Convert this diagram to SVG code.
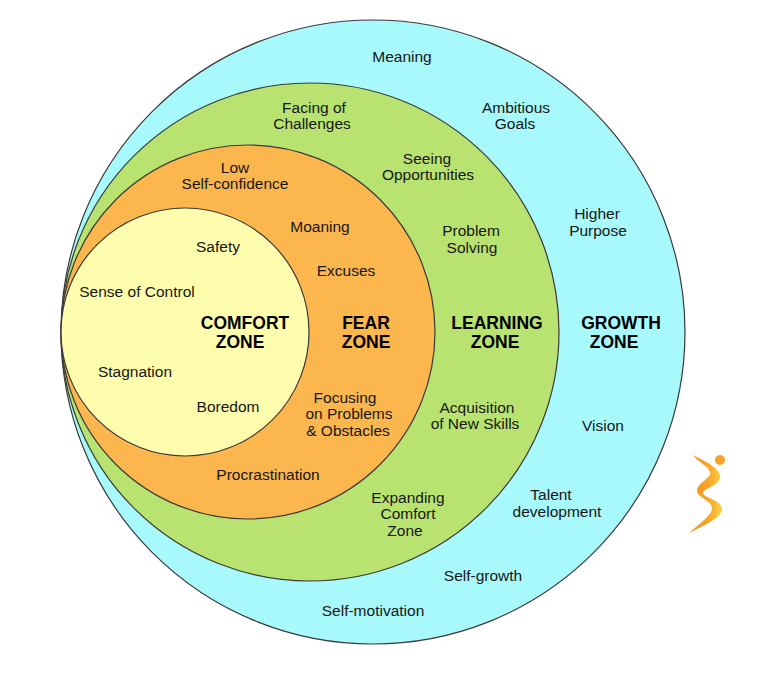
<svg xmlns="http://www.w3.org/2000/svg" width="768" height="677" viewBox="0 0 768 677">
<defs>
<style>
.zone{stroke:#3a3a3a;stroke-width:1.2}
text{font-family:"Liberation Sans",Arial,sans-serif;font-size:15.5px;fill:#161616;text-anchor:middle}
.b{font-weight:bold;font-size:17.5px;fill:#000}
</style>
<linearGradient id="lg" x1="0" y1="0" x2="1" y2="0">
<stop offset="0" stop-color="#f58a1f"/>
<stop offset="0.6" stop-color="#f9a62a"/>
<stop offset="1" stop-color="#fcd444"/>
</linearGradient>
</defs>
<rect width="768" height="677" fill="#fff"/>
<g id="growth-zone">
<circle class="zone" cx="373" cy="332" r="312" fill="#a8f9fc"/>
</g>
<g id="learning-zone">
<circle class="zone" cx="310" cy="332" r="249" fill="#b9e370"/>
</g>
<g id="fear-zone">
<circle class="zone" cx="248" cy="332" r="187" fill="#fcb64e"/>
</g>
<g id="comfort-zone">
<circle class="zone" cx="185" cy="332" r="124" fill="#fdfdad"/>
</g>
<g id="growth-labels">
<text x="402" y="62">Meaning</text>
<text x="516" y="113">Ambitious</text>
<text x="515" y="129">Goals</text>
<text x="597" y="219">Higher</text>
<text x="598" y="236">Purpose</text>
<text class="b" x="621" y="329">GROWTH</text>
<text class="b" x="614" y="348">ZONE</text>
<text x="603" y="431">Vision</text>
<text x="551" y="500">Talent</text>
<text x="557" y="517">development</text>
<text x="483" y="581">Self-growth</text>
<text x="373" y="616">Self-motivation</text>
</g>
<g id="learning-labels">
<text x="314" y="113">Facing of</text>
<text x="312" y="129">Challenges</text>
<text x="427" y="164">Seeing</text>
<text x="428" y="180">Opportunities</text>
<text x="471" y="236">Problem</text>
<text x="472" y="253">Solving</text>
<text class="b" x="497" y="329">LEARNING</text>
<text class="b" x="495" y="348">ZONE</text>
<text x="477" y="413">Acquisition</text>
<text x="475" y="429">of New Skills</text>
<text x="408" y="503">Expanding</text>
<text x="408" y="519">Comfort</text>
<text x="405" y="536">Zone</text>
</g>
<g id="fear-labels">
<text x="235" y="173">Low</text>
<text x="235" y="189">Self-confidence</text>
<text x="320" y="232">Moaning</text>
<text x="346" y="276">Excuses</text>
<text class="b" x="366" y="329">FEAR</text>
<text class="b" x="366" y="348">ZONE</text>
<text x="345" y="403">Focusing</text>
<text x="349" y="419">on Problems</text>
<text x="348" y="436">&amp; Obstacles</text>
<text x="268" y="480">Procrastination</text>
</g>
<g id="comfort-labels">
<text x="218" y="252">Safety</text>
<text x="137" y="297">Sense of Control</text>
<text class="b" x="245" y="329">COMFORT</text>
<text class="b" x="240" y="348">ZONE</text>
<text x="135" y="377">Stagnation</text>
<text x="228" y="412">Boredom</text>
</g>
<g id="connectors"></g>
<g id="logo">
<circle cx="720" cy="460" r="5" fill="#f9a428"/>
<path d="M693,455 C702,460 722,468 720,478 C718,486 704,488 703,493 C702,498 724,500 722,510 C720,520 700,526 689,534 C698,524 712,516 712,508 C712,500 696,497 697,490 C698,482 712,478 710,472 C708,466 698,462 693,455 Z" fill="url(#lg)"/>
</g>
</svg>
